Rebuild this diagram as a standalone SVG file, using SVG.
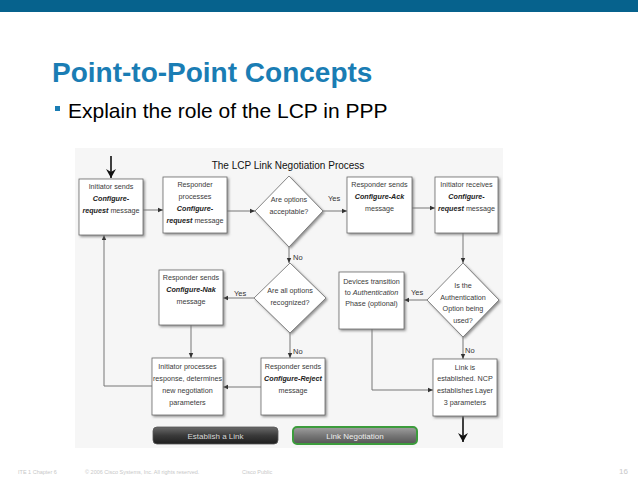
<svg xmlns="http://www.w3.org/2000/svg" width="638" height="479" viewBox="0 0 638 479">
<defs>
<style>
.box{fill:#fff;stroke:#6a6a6a;stroke-width:0.8;filter:url(#sh)}
.dia{fill:#fff;stroke:#6a6a6a;stroke-width:0.8;filter:url(#sh)}
.t{font-family:"Liberation Sans",Arial,sans-serif;font-size:7.2px;fill:#3a3a3a;text-anchor:middle}
.b{font-weight:bold;font-style:italic;fill:#222}
.lbl{font-family:"Liberation Sans",Arial,sans-serif;font-size:7.5px;fill:#333}
.c{fill:none;stroke:#777;stroke-width:1;marker-end:url(#ah)}
.cb{fill:none;stroke:#111;stroke-width:1.6;marker-end:url(#ahb)}
.foot{font-family:"Liberation Sans",Arial,sans-serif;font-size:5.5px;fill:#c8c8c8}
</style>
<filter id="sh" x="-10%" y="-10%" width="130%" height="130%">
<feDropShadow dx="1.5" dy="1.5" stdDeviation="0.8" flood-color="#777" flood-opacity="0.8"/>
</filter>
<marker id="ah" markerWidth="6" markerHeight="6" refX="5" refY="3" orient="auto" markerUnits="userSpaceOnUse">
<path d="M0,0.8 L5,3 L0,5.2 Z" fill="#333"/>
</marker>
<marker id="ahb" markerWidth="12" markerHeight="12" refX="9" refY="5" orient="auto" markerUnits="userSpaceOnUse">
<path d="M0,0 L9,5 L0,10 L3,5 Z" fill="#111"/>
</marker>
<linearGradient id="gDark" x1="0" y1="0" x2="0" y2="1">
<stop offset="0" stop-color="#6a6a6a"/>
<stop offset="0.5" stop-color="#3a3a3a"/>
<stop offset="1" stop-color="#1e1e1e"/>
</linearGradient>
<linearGradient id="gMid" x1="0" y1="0" x2="0" y2="1">
<stop offset="0" stop-color="#a0a0a0"/>
<stop offset="0.5" stop-color="#777"/>
<stop offset="1" stop-color="#555"/>
</linearGradient>
</defs>

<rect x="0" y="0" width="638" height="479" fill="#fff"/>
<rect x="0" y="0" width="638" height="12" fill="#06628d"/>

<text x="52" y="82" font-family="Liberation Sans,Arial,sans-serif" font-size="28" font-weight="bold" fill="#1a7db4">Point-to-Point Concepts</text>
<rect x="55" y="106" width="5" height="5" fill="#1a7db4"/>
<text x="68" y="118" font-family="Liberation Sans,Arial,sans-serif" font-size="21" fill="#000">Explain the role of the LCP in PPP</text>

<rect x="75" y="148" width="428" height="300" fill="#f6f6f6"/>
<text x="288" y="169" font-family="Liberation Sans,Arial,sans-serif" font-size="10" fill="#111" text-anchor="middle">The LCP Link Negotiation Process</text>

<g id="connectors">
<path class="cb" d="M111,156 V178"/>
<path class="c" d="M143,210 H163"/>
<path class="c" d="M227,211 H255"/>
<path class="c" d="M323,211 H347"/>
<path class="c" d="M412,208 H435"/>
<path class="c" d="M289,247 V263"/>
<path class="c" d="M254,298 H223"/>
<path class="c" d="M290,333 V358"/>
<path class="c" d="M191,325 V358"/>
<path class="c" d="M261,387 H223"/>
<path class="c" d="M152,386 H104 V235"/>
<path class="c" d="M463,233 V263"/>
<path class="c" d="M427,300 H404"/>
<path class="c" d="M463,337 V359"/>
<path class="c" d="M372,329 V390 H433"/>
<path class="cb" d="M463,416 V442"/>
<text class="lbl" x="328" y="201">Yes</text>
<text class="lbl" x="293" y="260">No</text>
<text class="lbl" x="234" y="296">Yes</text>
<text class="lbl" x="293" y="354">No</text>
<text class="lbl" x="411" y="295">Yes</text>
<text class="lbl" x="465" y="353">No</text>
</g>

<g id="n1">
<rect class="box" x="79" y="179" width="64" height="56"/>
<text class="t" x="111" y="189">Initiator sends</text>
<text class="t b" x="111" y="201">Configure-</text>
<text class="t" x="111" y="213"><tspan class="b">request</tspan> message</text>
</g>
<g id="n2">
<rect class="box" x="163" y="177" width="64" height="56"/>
<text class="t" x="195" y="187">Responder</text>
<text class="t" x="195" y="199">processes</text>
<text class="t b" x="195" y="211">Configure-</text>
<text class="t" x="195" y="223"><tspan class="b">request</tspan> message</text>
</g>
<g id="d1">
<polygon class="dia" points="289,176 323,211 289,247 255,211"/>
<text class="t" x="289" y="202">Are options</text>
<text class="t" x="289" y="214">acceptable?</text>
</g>
<g id="n3">
<rect class="box" x="347" y="177" width="65" height="56"/>
<text class="t" x="379.5" y="187">Responder sends</text>
<text class="t b" x="379.5" y="199">Configure-Ack</text>
<text class="t" x="379.5" y="211">message</text>
</g>
<g id="n4">
<rect class="box" x="435" y="177" width="63" height="56"/>
<text class="t" x="466.5" y="187">Initiator receives</text>
<text class="t b" x="466.5" y="199">Configure-</text>
<text class="t" x="466.5" y="211"><tspan class="b">request</tspan> message</text>
</g>
<g id="d2">
<polygon class="dia" points="290,263 326,298 290,333 254,298"/>
<text class="t" x="290" y="293">Are all options</text>
<text class="t" x="290" y="305">recognized?</text>
</g>
<g id="n5">
<rect class="box" x="159" y="270" width="64" height="55"/>
<text class="t" x="191" y="280">Responder sends</text>
<text class="t b" x="191" y="292">Configure-Nak</text>
<text class="t" x="191" y="304">message</text>
</g>
<g id="d3">
<polygon class="dia" points="463,263 499,300 463,337 427,300"/>
<text class="t" x="463" y="288">Is the</text>
<text class="t" x="463" y="300">Authentication</text>
<text class="t" x="463" y="311">Option being</text>
<text class="t" x="463" y="323">used?</text>
</g>
<g id="n8">
<rect class="box" x="339" y="272" width="65" height="57"/>
<text class="t" x="371.5" y="284">Devices transition</text>
<text class="t" x="371.5" y="295">to <tspan font-style="italic">Authentication</tspan></text>
<text class="t" x="371.5" y="306">Phase (optional)</text>
</g>
<g id="n7">
<rect class="box" x="152" y="358" width="71" height="57"/>
<text class="t" x="187.5" y="369">Initiator processes</text>
<text class="t" x="187.5" y="381">response, determines</text>
<text class="t" x="187.5" y="393">new negotiation</text>
<text class="t" x="187.5" y="405">parameters</text>
</g>
<g id="n6">
<rect class="box" x="261" y="358" width="64" height="57"/>
<text class="t" x="293" y="369">Responder sends</text>
<text class="t b" x="293" y="381">Configure-Reject</text>
<text class="t" x="293" y="393">message</text>
</g>
<g id="n9">
<rect class="box" x="433" y="359" width="64" height="57"/>
<text class="t" x="465" y="370">Link is</text>
<text class="t" x="465" y="381">established. NCP</text>
<text class="t" x="465" y="393">establishes Layer</text>
<text class="t" x="465" y="405">3 parameters</text>
</g>

<g id="btn1">
<rect x="153" y="427" width="125" height="17" rx="4" fill="url(#gDark)" stroke="#555" stroke-width="0.8"/>
<text x="215.5" y="439" font-family="Liberation Sans,Arial,sans-serif" font-size="8" fill="#d8d8d8" text-anchor="middle">Establish a Link</text>
</g>
<g id="btn2">
<rect x="293" y="427" width="124" height="17" rx="4" fill="url(#gMid)" stroke="#3c9c3c" stroke-width="2"/>
<text x="355" y="439" font-family="Liberation Sans,Arial,sans-serif" font-size="8" fill="#eee" text-anchor="middle">Link Negotiation</text>
</g>

<text class="foot" x="18" y="474">ITE 1 Chapter 6</text>
<text class="foot" x="85" y="474">© 2006 Cisco Systems, Inc. All rights reserved.</text>
<text class="foot" x="242" y="474">Cisco Public</text>
<text x="628" y="474" font-family="Liberation Sans,Arial,sans-serif" font-size="8" fill="#c8c8c8" text-anchor="end">16</text>
</svg>
